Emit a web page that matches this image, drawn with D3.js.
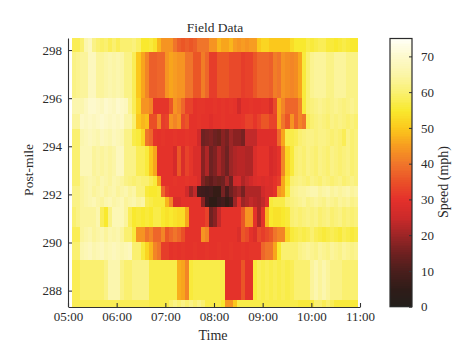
<!DOCTYPE html>
<html>
<head>
<meta charset="utf-8">
<script src="https://cdn.jsdelivr.net/npm/d3@7"></script>
<style>
  html, body { margin: 0; padding: 0; background: #fff; }
  svg text { font-family: "Liberation Serif", serif; fill: #2b2b2b; }
</style>
</head>
<body>
<div id="my_dataviz"></div>
<script>
// post-mile edges of the detector rows, top to bottom
var rowEdges = [298.5, 297.92, 296.02, 295.33, 294.73, 294.01, 292.78, 292.36, 291.91, 291.49, 290.65, 290.01, 289.28, 287.63, 287.34];
var xTicks = ["05:00", "06:00", "07:00", "08:00", "09:00", "10:00", "11:00"];
var yTicks = [288, 290, 292, 294, 296, 298];
var speedTicks = [0, 10, 20, 30, 40, 50, 60, 70];
var speedStops = [0, 5, 10, 15, 20, 25, 30, 35, 40, 45, 50, 55, 60, 65, 70, 75];
var stopColors = ["#231f1c", "#2f1c18", "#4a1e1c", "#6e2020", "#9c2526", "#cc2a2a", "#e4302b", "#ea5028", "#f0752a", "#f79c20", "#fbc81c", "#f9e92e", "#faf070", "#fbf5a6", "#fdf9cc", "#fffff6"];

// speeds (mph), one list per row, 71 samples each
var row1 = [58,58,60,66,68,62,60,59,60,58, 60,58,60,60,60,61,59,55,55,56, 54,48,44,44,44,40,37,36,37,36, 37,40,40,40,44,44,48,46,46,48, 45,44,45,44,45,45,50,52,52,50, 50,50,50,50,53,55,55,55,57,56, 57,58,58,56,56,55,56,57,56,55,55];
var row2 = [62,63,64,64,68,68,64,64,65,66, 65,66,65,62,62,58,50,46,42,37, 37,38,38,44,46,45,44,44,40,40, 36,36,41,38,32,32,36,36,36,34, 34,34,32,33,33,36,38,38,38,37, 41,40,44,43,42,43,46,56,60,63, 64,64,64,62,62,64,64,64,62,62,62];
var row3 = [66,66,66,68,70,70,69,68,70,69, 68,70,69,68,63,58,52,44,44,42, 31,31,31,31,36,44,42,38,33,33, 30,31,31,30,30,31,30,31,30,31, 30,26,30,30,31,30,30,31,31,28, 34,46,42,38,38,38,42,56,60,61, 62,63,62,61,62,63,62,61,62,63,62];
var row4 = [64,64,69,68,69,68,69,70,69,68, 69,68,69,65,65,60,50,48,49,35, 35,42,32,33,44,42,44,34,36,30, 30,31,30,30,29,30,30,31,30,30, 30,30,31,33,33,31,33,36,36,33, 33,46,40,36,44,38,42,40,58,60, 61,62,61,60,62,61,62,61,60,61,60];
var row5 = [60,60,66,67,68,67,66,68,67,66, 68,67,66,62,62,57,56,52,40,38, 31,30,31,30,30,31,30,30,31,30, 30,26,15,16,17,15,14,18,16,20, 18,18,16,24,24,24,29,29,29,29, 29,38,46,57,57,58,60,61,62,62, 61,62,62,61,60,61,60,58,62,60,61];
var row6 = [60,60,67,67,67,64,65,64,65,64, 65,68,68,62,62,62,58,58,56,50, 46,30,30,30,30,27,36,28,33,31, 28,28,18,22,15,17,21,18,15,20, 22,23,23,22,22,28,30,30,30,27, 28,30,42,52,56,60,61,60,62,61, 60,62,61,60,62,61,60,61,62,60,61];
var row7 = [60,60,64,65,66,65,64,66,65,64, 66,65,64,62,61,60,61,60,60,58, 56,46,30,30,30,31,30,30,31,30, 30,28,17,14,13,15,14,15,20,15, 25,26,22,24,26,28,29,28,29,28, 30,32,46,54,60,61,62,61,60,62, 61,60,62,61,60,61,62,60,61,62,61];
var row8 = [62,62,64,65,66,64,65,66,64,65, 66,64,65,66,64,65,61,61,56,55, 55,56,38,32,30,30,30,30,26,20, 24,9,8,7,8,6,6,16,10,15, 18,20,16,22,22,22,22,26,28,28, 30,44,46,56,62,63,64,64,65,66, 66,64,65,66,64,65,64,65,66,64,65];
var row9 = [62,62,64,65,66,67,65,64,66,67, 65,66,67,64,65,66,64,65,58,57, 56,56,56,48,42,28,28,30,30,30, 30,30,18,8,5,4,7,9,6,9, 20,28,20,22,24,23,22,24,29,56, 57,57,57,60,61,62,63,64,62,63, 64,63,62,64,63,62,64,63,64,62,63];
var row10 = [60,62,64,64,64,64,66,58,55,62, 67,67,67,64,58,55,56,55,56,55, 57,57,55,54,55,54,53,53,46,30, 30,30,30,33,15,18,24,30,30,30, 30,30,36,44,44,30,22,30,48,55, 54,54,55,56,60,61,60,61,62,61, 62,60,61,62,60,61,62,60,61,60,61];
var row11 = [58,58,64,65,66,64,65,66,64,66, 65,66,64,60,60,56,44,44,40,42, 38,38,42,36,38,40,38,35,30,30, 30,30,44,42,30,30,30,30,30,30, 30,28,36,34,30,28,34,32,34,36, 40,42,42,52,56,57,58,57,58,60, 58,57,56,57,58,57,56,58,57,56,57];
var row12 = [60,60,66,67,68,66,67,68,66,67, 68,67,66,67,68,60,60,56,52,48, 42,40,32,32,30,31,30,31,30,30, 31,30,30,31,30,30,31,30,30,31, 30,30,31,30,31,31,31,38,40,40, 46,55,60,60,60,60,62,63,64,63, 62,64,63,62,64,63,62,64,63,62,63];
var row13 = [58,58,60,60,60,60,60,60,62,66, 66,66,62,60,60,62,62,62,62,57, 57,57,57,57,57,57,47,46,42,56, 57,57,57,57,57,57,57,57,30,30, 30,30,36,30,30,56,58,57,58,57, 58,57,58,57,58,60,60,60,60,64, 66,64,66,64,62,62,62,60,60,60,60];
var row14 = [58,58,58,58,58,58,58,58,58,58, 58,58,58,58,58,58,58,58,58,57, 57,57,57,57,60,62,60,62,60,62, 60,62,60,57,57,57,57,55,44,44, 50,57,57,57,57,57,57,57,57,57, 57,57,57,57,57,57,56,56,56,56, 60,60,58,60,58,56,56,56,56,56,56];
var speedRows = [row1, row2, row3, row4, row5, row6, row7, row8, row9, row10, row11, row12, row13, row14];

var sampleStart = 305, sampleStep = 4.965; // minutes after midnight

function toMinutes(label) {
    var parts = label.split(":");
    return +parts[0] * 60 + +parts[1];
}

function drawChart() {
    var width = 474, height = 363;
    var svg = d3.select("#my_dataviz").append("svg").attr("width", width).attr("height", height).style("display", "block");

    // the reference is a soft scan, a small blur brings the cells closer to it
    svg.append("defs").append("filter").attr("id", "soft")
        .append("feGaussianBlur").attr("stdDeviation", 0.6);

    var x = d3.scaleLinear().domain([300, 660]).range([68, 360]);
    var y = d3.scaleLinear().domain([287.34, 298.5]).range([306.5, 38]);
    var color = d3.scaleLinear().domain(speedStops).range(stopColors).clamp(true);

//Drawing the heatmap
    var rows = svg.append("g").attr("shape-rendering", "crispEdges").attr("filter", "url(#soft)")
        .selectAll("g")
        .data(speedRows)
        .enter()
        .append("g");

    rows.selectAll("rect")
        .data(function (d, i) { return d.map(function (v, j) { return {v: v, j: j, r: i}; }); })
        .enter()
        .append("rect")
        .attr("x", function (d) { return x(sampleStart + d.j * sampleStep); })
        .attr("width", function (d) { return x(sampleStart + (d.j + 1) * sampleStep) - x(sampleStart + d.j * sampleStep) + 0.5; })
        .attr("y", function (d) { return y(rowEdges[d.r]); })
        .attr("height", function (d) { return y(rowEdges[d.r + 1]) - y(rowEdges[d.r]); })
        .attr("fill", function (d) { return color(d.v); });

//Axes
    var xAxis = d3.axisBottom(x)
        .tickValues(xTicks.map(toMinutes))
        .tickFormat(function (d, i) { return xTicks[i]; })
        .tickSizeInner(-4).tickSizeOuter(0).tickPadding(5);
    var gx = svg.append("g").attr("transform", "translate(0,307)").call(xAxis);

    var yAxis = d3.axisLeft(y)
        .tickValues(yTicks)
        .tickFormat(d3.format("d"))
        .tickSizeInner(-4).tickSizeOuter(0).tickPadding(6);
    var gy = svg.append("g").attr("transform", "translate(68,0)").call(yAxis);

    [gx, gy].forEach(function (g) {
        g.selectAll("text").style("font-size", "13px").attr("fill", "#2b2b2b");
        g.selectAll("path,line").attr("stroke", "#333").attr("stroke-width", 1.1);
    });

//Titles
    svg.append("text").attr("x", 215).attr("y", 32).attr("text-anchor", "middle").style("font-size", "13.5px").text("Field Data");
    svg.append("text").attr("x", 213).attr("y", 340).attr("text-anchor", "middle").style("font-size", "14px").text("Time");
    svg.append("text").attr("transform", "translate(33,170) rotate(-90)").attr("text-anchor", "middle").style("font-size", "13.5px").text("Post-mile");

//Colorbar
    var barX = 390, barW = 22;
    var barY = d3.scaleLinear().domain([0, 75]).range([306.7, 38.5]);
    svg.append("g").attr("shape-rendering", "crispEdges")
        .selectAll("rect")
        .data(d3.range(0, 75, 0.5))
        .enter()
        .append("rect")
        .attr("x", barX)
        .attr("width", barW)
        .attr("y", function (d) { return barY(d + 0.5); })
        .attr("height", function (d) { return barY(d) - barY(d + 0.5) + 0.5; })
        .attr("fill", function (d) { return color(d + 0.25); });

    var barAxis = d3.axisRight(barY)
        .tickValues(speedTicks)
        .tickFormat(d3.format("d"))
        .tickSizeInner(-3).tickSizeOuter(0).tickPadding(9);
    var gb = svg.append("g").attr("transform", "translate(" + (barX + barW) + ",0)").call(barAxis);
    gb.select(".domain").remove();
    gb.selectAll("text").style("font-size", "13px").attr("fill", "#2b2b2b");
    gb.selectAll("line").attr("stroke", "#333");

    svg.append("rect").attr("x", barX).attr("y", 38.5).attr("width", barW).attr("height", 268.2)
        .attr("fill", "none").attr("stroke", "#2b2b2b").attr("stroke-width", 1.2);

    svg.append("text").attr("transform", "translate(448,182) rotate(-90)").attr("text-anchor", "middle").style("font-size", "14px").text("Speed (mph)");
}

drawChart();
</script>
</body>
</html>
